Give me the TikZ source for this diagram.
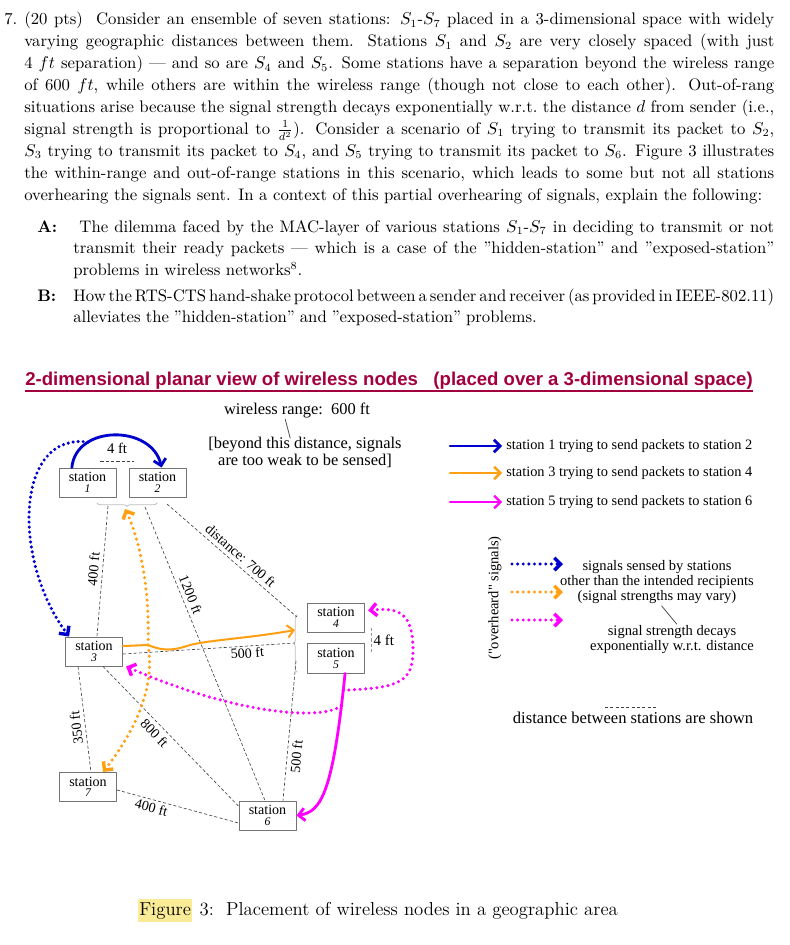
\documentclass[tikz,border=0pt]{standalone}
\usepackage{fontspec}
\usetikzlibrary{arrows.meta,positioning,decorations.pathreplacing}
\newfontfamily\tms{Liberation Serif}
\newfontfamily\arl{Liberation Sans}
\definecolor{ttlred}{RGB}{163,0,62}
\definecolor{sigblue}{RGB}{0,0,205}
\definecolor{sigorange}{RGB}{255,160,20}
\definecolor{sigmag}{RGB}{255,0,255}
\definecolor{hilite}{RGB}{250,236,150}
\newcommand{\stlbl}[1]{station\\[-1.3pt]{\itshape\fontsize{7.5}{7.5}\selectfont #1}}
\tikzset{
  stn/.style={draw=black!55,line width=0.6pt,minimum width=36.5pt,minimum height=18.6pt,
    inner sep=0pt,align=center,font=\tms\fontsize{9}{8}\selectfont},
  dist/.style={dash pattern=on 2pt off 1.4pt,black!75,line width=0.4pt,line cap=butt},
  dlbl/.style={font=\tms\fontsize{9}{9}\selectfont,inner sep=2.5pt,text=black},
  brc/.style={decorate,decoration={brace,amplitude=2.2pt},black!25,line width=0.5pt},
  sent/.style={-{Straight Barb[length=4pt,width=8pt]},line width=1.8pt},
  heard/.style={-{Straight Barb[length=4pt,width=8pt]},line width=2.2pt,dash pattern=on 0pt off 3.6pt},
  legtxt/.style={font=\tms\fontsize{9.2}{10}\selectfont,anchor=west,inner sep=0pt},
  body/.style={inner sep=0pt,anchor=base west,font=\fontsize{10.7}{14}\selectfont},
}
\begin{document}
\begin{tikzpicture}[x=0.64pt,y=-0.64pt,line join=round,line cap=round]
\fill[white] (0,0) rectangle (790,945);
\useasboundingbox (0,0) rectangle (790,945);
% question
\node[body] (qnum) at (4,25) {7.};
\node[body,text width=480pt,align=justify] (qtext) at (24,25) {\hangindent=8.96pt\hangafter=1\parfillskip=0pt
(20 pts)\ \ Consider an ensemble of seven stations: $S_1$-$S_7$ placed in a 3-dimensional space with widely\linebreak
varying geographic distances between them. Stations $S_1$ and $S_2$ are very closely spaced (with just\linebreak
4 $ft$ separation) --- and so are $S_4$ and $S_5$. Some stations have a separation beyond the wireless range\linebreak
of 600 $ft$, while others are within the wireless range (though not close to each other). Out-of-rang\linebreak
situations arise because the signal strength decays exponentially w.r.t.\ the distance $d$ from sender (i.e.,\linebreak
signal strength is proportional to $\frac{1}{d^2}$). Consider a scenario of $S_1$ trying to transmit its packet to $S_2$,\linebreak
$S_3$ trying to transmit its packet to $S_4$, and $S_5$ trying to transmit its packet to $S_6$. Figure 3 illustrates\linebreak
the within-range and out-of-range stations in this scenario, which leads to some but not all stations\linebreak
overhearing the signals sent. In a context of this partial overhearing of signals, explain the following:};
\node[body,font=\bfseries\fontsize{10.7}{14}\selectfont] (qa) at (37,232) {A:};
\node[body,text width=448.6pt,align=justify] (qatext) at (73,232) {\ The dilemma faced by the MAC-layer of various stations $S_1$-$S_7$ in deciding to transmit or not\linebreak
transmit their ready packets --- which is a case of the "hidden-station" and "exposed-station"\linebreak
problems in wireless networks$^8$.};
\node[body,font=\bfseries\fontsize{10.7}{14}\selectfont] (qb) at (37,301) {B:};
\node[body,text width=448.6pt,align=justify] (qbtext) at (73,301) {\hyphenpenalty=10000\exhyphenpenalty=10000
\spaceskip=.3em plus .2em minus .14em
How the RTS-CTS hand-shake protocol between a sender and receiver (as provided in IEEE-802.11)\linebreak
alleviates the "hidden-station" and "exposed-station" problems.};

% title
\node[anchor=base west,inner sep=0pt,text=ttlred,font=\arl\bfseries\fontsize{11.9}{12}\selectfont] (title) at (25,385)
  {2-dimensional planar view of wireless nodes\ \ \ (placed over a 3-dimensional space)};
\draw[ttlred,line width=1.3pt,line cap=butt] ([yshift=-3.6pt]title.base west) -- ([yshift=-3.6pt]title.base east);

\node[font=\tms\fontsize{10.5}{11}\selectfont,inner sep=0pt] (range) at (297,410) {wireless range:\ \ 600 ft};
\node[font=\tms\fontsize{10.5}{10.9}\selectfont,inner sep=0pt,align=center] (beyond) at (305,452)
  {[beyond this distance, signals\\are too weak to be sensed]};
\draw[black!70,line width=0.5pt] ([xshift=-7.5pt,yshift=-1pt]range.south) -- ([xshift=-9.5pt,yshift=-1pt]beyond.north);

% stations
\node[stn] (s1) at (87.5,482.5) {\stlbl{1}};
\node[stn,right=7.7pt of s1] (s2) {\stlbl{2}};
\node[stn] (s3) at (94,651.5) {\stlbl{3}};
\node[stn] (s4) at (336,617.5) {\stlbl{4}};
\node[stn,below=7pt of s4] (s5) {\stlbl{5}};
\node[stn] (s6) at (267.5,815.5) {\stlbl{6}};
\node[stn] (s7) at (88,787) {\stlbl{7}};

% braces and their ends
\draw[brc] (157,503) -- (97,503);
\draw[brc] (297,672) -- (297,615);
\coordinate (b12) at (125,509);
\coordinate (c12a) at (108,506);
\coordinate (c12b) at (145,507);
\coordinate (c12c) at (167,504);
\coordinate (c45a) at (297,617);
\coordinate (c45b) at (295,643);
\coordinate (c45c) at (296,661);

% distances
\node[dlbl,inner sep=1pt,font=\tms\fontsize{9.4}{9.4}\selectfont] (ft12) at (117,448) {4 ft};
\draw[dist] ([xshift=-3pt,yshift=-4pt]ft12.south west) -- ([xshift=3pt,yshift=-4pt]ft12.south east);
\draw[dist,black!40] ([xshift=3.8pt,yshift=3pt]s4.south east) -- ([xshift=3.8pt,yshift=-6pt]s5.north east)
  node[midway,right,dlbl,inner sep=1.5pt,font=\tms\fontsize{9.6}{9.6}\selectfont] (ft45) {4 ft};
\draw[dist] (c12a) -- ([xshift=1.9pt]s3.north) node[dlbl,pos=0.49,rotate=85,anchor=south] {400 ft};
\draw[dist] (c12b) -- ([xshift=-1.6pt]s6.north) node[dlbl,pos=0.31,rotate=-68,anchor=south] {1200 ft};
\draw[dist] (c12c) -- (c45a) node[dlbl,pos=0.52,rotate=-41,anchor=south] {distance: 700 ft};
\draw[dist] ([yshift=-1.6pt]s3.east) -- (c45b) node[dlbl,inner sep=1pt,pos=0.72,rotate=4,anchor=north] {500 ft};
\draw[dist] (c45c) -- ([xshift=9.9pt]s6.north) node[dlbl,pos=0.68,rotate=85,anchor=north] {500 ft};
\draw[dist] ([xshift=-10.2pt]s3.south) -- ([xshift=1.9pt]s7.north) node[dlbl,pos=0.57,rotate=97,anchor=south] {350 ft};
\draw[dist] ([xshift=5.8pt]s3.south) -- ([yshift=6pt]s6.west) node[dlbl,pos=0.43,rotate=-46,anchor=north] {800 ft};
\draw[dist] ([yshift=-1.9pt]s7.east) -- ([yshift=-4.8pt]s6.west) node[dlbl,inner sep=1.5pt,pos=0.3,rotate=-15,anchor=north] {400 ft};

% signals
\draw[sent,sigblue] ([xshift=-10pt]s1.north) .. controls +(4,-43) and +(-10,-43) .. ([xshift=2.6pt]s2.north)
  coordinate[pos=0.27] (bl1);
\draw[heard,sigblue,dash pattern=on 0pt off 3.2pt] (bl1) .. controls (15,432) and (12,560) .. ([xshift=2.6pt]s3.north west);
\draw[sent,sigorange,line width=1.3pt] ([yshift=3.5pt]s3.east) -- (148,645) coordinate (o3)
  .. controls (165,652) and (175,650) .. (190,645) .. controls (210,640) and (250,638) .. ([yshift=8.3pt]c45b);
\draw[heard,sigorange] (o3) .. controls (150,590) and (140,540) .. (b12);
\draw[heard,sigorange] (o3) .. controls (156,690) and (132,735) .. ([xshift=9.6pt]s7.north);
\draw[sent,sigmag] ([xshift=5.8pt]s5.south) .. controls (333,790) and (322,812) .. (s6.east)
  coordinate[pos=0.05] (m1) coordinate[pos=0.1] (m2);
\draw[heard,sigmag] (m1) .. controls (400,688) and (413,682) .. (413,650)
  .. controls (413,614) and (400,607) .. ([xshift=2pt,yshift=4.5pt]s4.east);
\draw[heard,sigmag] (m2) .. controls (320,722) and (230,712) .. ([xshift=2pt]s3.south east);

% legend
\node[legtxt] (leg1) at (506,446) {station 1 trying to send packets to station 2};
\node[legtxt] (leg2) at (506,473) {station 3 trying to send packets to station 4};
\node[legtxt] (leg3) at (506,502) {station 5 trying to send packets to station 6};
\draw[sent,sigblue] ([xshift=-35.8pt]leg1.west) -- ([xshift=-2.5pt]leg1.west);
\draw[sent,sigorange,line width=1.6pt] ([xshift=-35.8pt]leg2.west) -- ([xshift=-2.5pt]leg2.west);
\draw[sent,sigmag,line width=1.5pt] ([xshift=-35.8pt]leg3.west) -- ([xshift=-2.5pt]leg3.west);

\node[font=\tms\fontsize{9.3}{10}\selectfont,rotate=90,inner sep=0pt] (ovh) at (495,598) {("overheard" signals)};
\coordinate (hb) at (512,564);
\coordinate (ho) at (512,592);
\coordinate (hm) at (512,620);
\draw[heard,sigblue] (hb) -- ++(51,0);
\draw[heard,sigorange] (ho) -- ++(51,0);
\draw[heard,sigmag] (hm) -- ++(51,0);
\node[font=\tms\fontsize{9.3}{9.9}\selectfont,inner sep=0pt,align=center] (sens) at (657,582)
  {signals sensed by stations\\other than the intended recipients\\(signal strengths may vary)};
\node[font=\tms\fontsize{9.3}{9.6}\selectfont,inner sep=0pt,align=center] (decay) at (672,640)
  {signal strength decays\\exponentially w.r.t. distance};
\draw[black!70,line width=0.5pt] ([xshift=3pt,yshift=-1pt]sens.south) -- ([xshift=3pt,yshift=1pt]decay.north);

\node[font=\tms\fontsize{10.6}{11}\selectfont,inner sep=0pt] (dleg) at (633,718) {distance between stations are shown};
\draw[dist] ([xshift=-17.9pt,yshift=3.2pt]dleg.north) -- ([xshift=15.4pt,yshift=3.2pt]dleg.north);

% caption
\node[anchor=base west,inner xsep=0.6pt,inner ysep=2pt,fill=hilite,font=\fontsize{12}{12}\selectfont] (figw) at (138,915) {Figure};
\node[anchor=base west,inner sep=0pt,font=\fontsize{12}{12}\selectfont] (capt) at ([xshift=0.6pt]figw.base east)
  {\ 3:\ \ Placement of wireless nodes in a geographic area};
\end{tikzpicture}
\end{document}
